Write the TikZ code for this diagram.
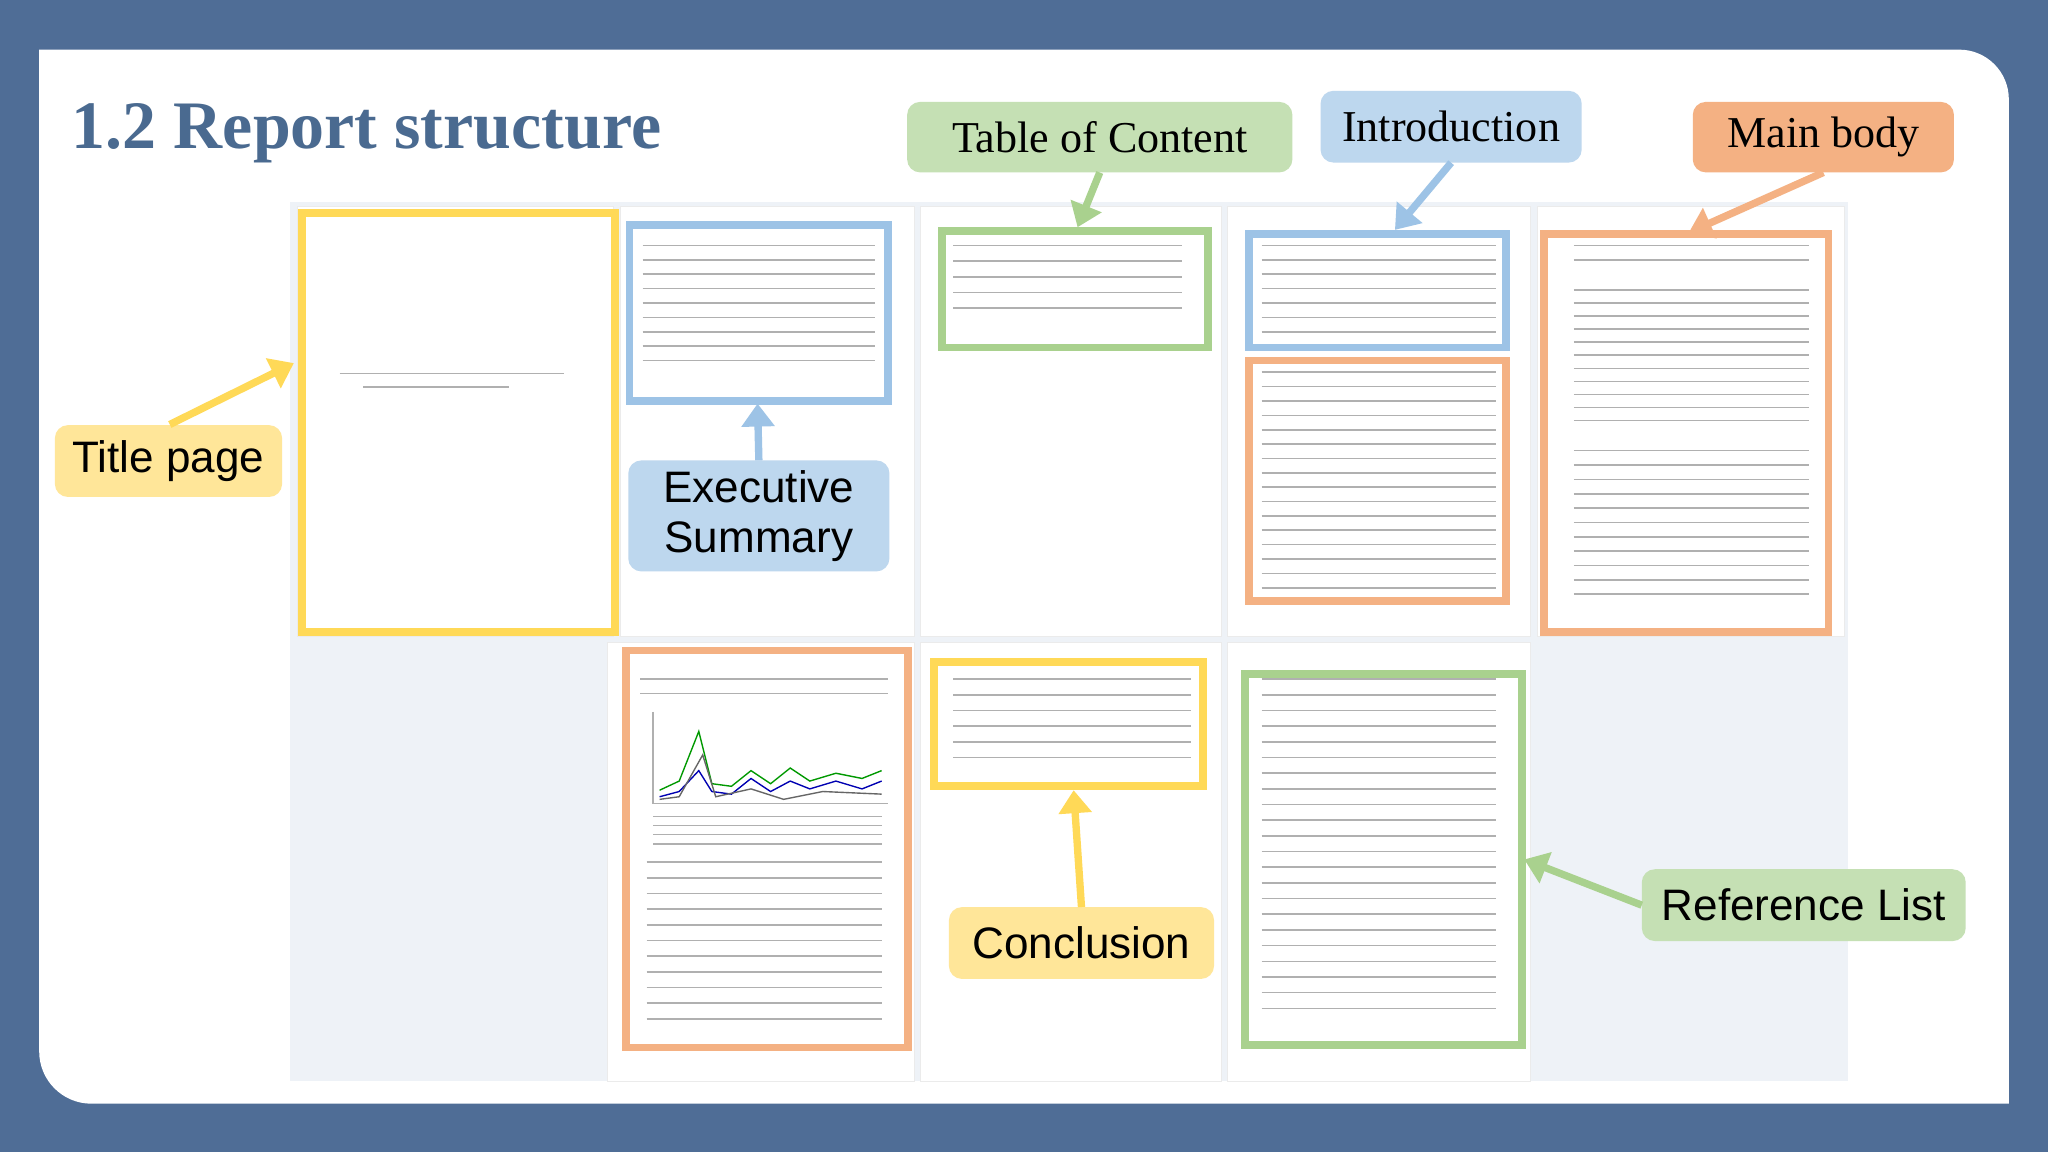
\documentclass[tikz,border=0pt]{standalone}
\usepackage{fontspec}
\setmainfont{Liberation Serif}
\setsansfont{Liberation Sans}
\usetikzlibrary{arrows.meta}
\definecolor{bgblue}{HTML}{4F6D96}
\definecolor{titleblue}{HTML}{4A6A90}
\definecolor{area}{HTML}{EEF2F7}
\definecolor{yfill}{HTML}{FFE699}
\definecolor{yline}{HTML}{FFD957}
\definecolor{gfill}{HTML}{C5E0B4}
\definecolor{gline}{HTML}{A9D18E}
\definecolor{bfill}{HTML}{BDD7EE}
\definecolor{bline}{HTML}{9DC3E6}
\definecolor{ofill}{HTML}{F4B183}
\definecolor{oline}{HTML}{F4B183}
\definecolor{txt}{HTML}{B0B0B0}
\newcommand{\fakelines}[5]{\foreach \yy in {#3,#4,...,#5}{\draw[txt,line width=3.5pt] (#1,\yy) -- (#2,\yy);}}
\begin{document}
\begin{tikzpicture}[x=0.1cm,y=-0.1cm,
  page/.style={fill=white,draw=black!8,line width=2pt},
  hbox/.style={draw=#1,line width=17pt},
  lab/.style={fill=#1,rounded corners=1cm,inner sep=0pt,align=center},
  arr/.style={draw=#1,line width=16pt,-{Triangle[length=50pt,width=70pt]}},
  serifl/.style={font=\fontsize{96pt}{100pt}\selectfont},
  sansl/.style={font=\sffamily\fontsize{96pt}{110pt}\selectfont}]
\useasboundingbox (0,0) rectangle (1568,882);
\fill[bgblue] (0,0) rectangle (1568,882);
\fill[white] (30,38) -- (1500,38) arc[start angle=270,end angle=360,radius=38] -- (1538,845) -- (70,845) arc[start angle=90,end angle=180,radius=40] -- cycle;
\node[anchor=base west,text=titleblue,font=\bfseries\fontsize{148pt}{150pt}\selectfont,inner sep=0pt] (title) at (55,114) {1.2 Report structure};
\fill[area] (222,155) rectangle (1415,828);
% pages
\draw[page] (228,158) rectangle (470,487);
\draw[page] (475,158) rectangle (700,487);
\draw[page] (705,158) rectangle (935,487);
\draw[page] (940,158) rectangle (1172,487);
\draw[page] (1177,158) rectangle (1412,487);
\draw[page] (465,492) rectangle (700,828);
\draw[page] (705,492) rectangle (935,828);
\draw[page] (940,492) rectangle (1172,828);
% page text
\draw[txt,line width=4pt] (260,286) -- (432,286); \draw[txt,line width=4pt] (278,296) -- (390,296);
\fakelines{492}{670}{188}{199}{284}
\fakelines{730}{905}{188}{200}{236}
\fakelines{966}{1145}{188}{199}{265}
\fakelines{966}{1145}{285}{296}{450}
\fakelines{1205}{1385}{188}{199}{200}
\fakelines{1205}{1385}{222}{232}{322}
\fakelines{1205}{1385}{345}{356}{456}
\fakelines{490}{680}{520}{531}{532}
\fakelines{495}{675}{660}{672}{790}
\fakelines{730}{912}{520}{532}{587}
\fakelines{966}{1145}{520}{532}{782}
% chart
\draw[txt,line width=3pt] (500,545) -- (500,615) -- (680,615);
\draw[green!60!black,line width=3pt] (505,605) -- (520,598) -- (535,560) -- (545,600) -- (560,602) -- (575,590) -- (590,600) -- (605,588) -- (620,598) -- (640,592) -- (660,596) -- (675,590);
\draw[blue!70!black,line width=3pt] (505,610) -- (520,606) -- (535,590) -- (545,606) -- (560,608) -- (575,596) -- (590,606) -- (605,598) -- (620,604) -- (640,598) -- (660,604) -- (675,598);
\draw[black!60,line width=3pt] (505,612) -- (520,610) -- (538,578) -- (548,610) -- (575,604) -- (600,612) -- (630,606) -- (675,608);
\fakelines{500}{675}{625}{632}{646}
% highlight boxes
\draw[hbox=yline] (231,163) rectangle (471,484);
\draw[hbox=bline] (482,172) rectangle (680,307);
\draw[hbox=gline] (721,177) rectangle (925,266);
\draw[hbox=bline] (956,179) rectangle (1153,266);
\draw[hbox=oline] (956,276) rectangle (1153,460);
\draw[hbox=oline] (1182,179) rectangle (1400,484);
\draw[hbox=oline] (479,498) rectangle (695,802);
\draw[hbox=yline] (715,507) rectangle (921,602);
\draw[hbox=gline] (953,516) rectangle (1165,800);
% labels
\node[lab=gfill,serifl,minimum width=29.5cm,minimum height=5.4cm] (toc) at (842,105) {Table of Content};
\node[lab=bfill,serifl,minimum width=20cm,minimum height=5.5cm] (intro) at (1111,97) {Introduction};
\node[lab=ofill,serifl,minimum width=20cm,minimum height=5.4cm] (main) at (1396,105) {Main body};
\node[lab=yfill,sansl,minimum width=17.4cm,minimum height=5.5cm] (tpl) at (129,353) {Title page};
\node[lab=bfill,sansl,minimum width=20cm,minimum height=8.5cm] (exec) at (581,395) {Executive\\Summary};
\node[lab=yfill,sansl,minimum width=20.3cm,minimum height=5.5cm] (concl) at (828,722) {Conclusion};
\node[lab=gfill,sansl,minimum width=24.8cm,minimum height=5.5cm] (ref) at (1381,693) {Reference List};
% arrows
\coordinate (a1) at (225,278);
\coordinate (a2) at (580,309);
\coordinate (a3) at (825,174);
\coordinate (a4) at (1068,176);
\coordinate (a5) at (1293,178);
\coordinate (a6) at (822,605);
\coordinate (a7) at (1167,658);
\coordinate (t1) at (130,325);
\draw[arr=yline] (t1) -- (a1);
\draw[arr=bline] (exec.north) -- (a2);
\draw[arr=gline] (toc.south) -- (a3);
\draw[arr=bline] (intro.south) -- (a4);
\draw[arr=oline] (main.south) -- (a5);
\draw[arr=yline] (concl.north) -- (a6);
\draw[arr=gline] (ref.west) -- (a7);
\end{tikzpicture}
\end{document}
